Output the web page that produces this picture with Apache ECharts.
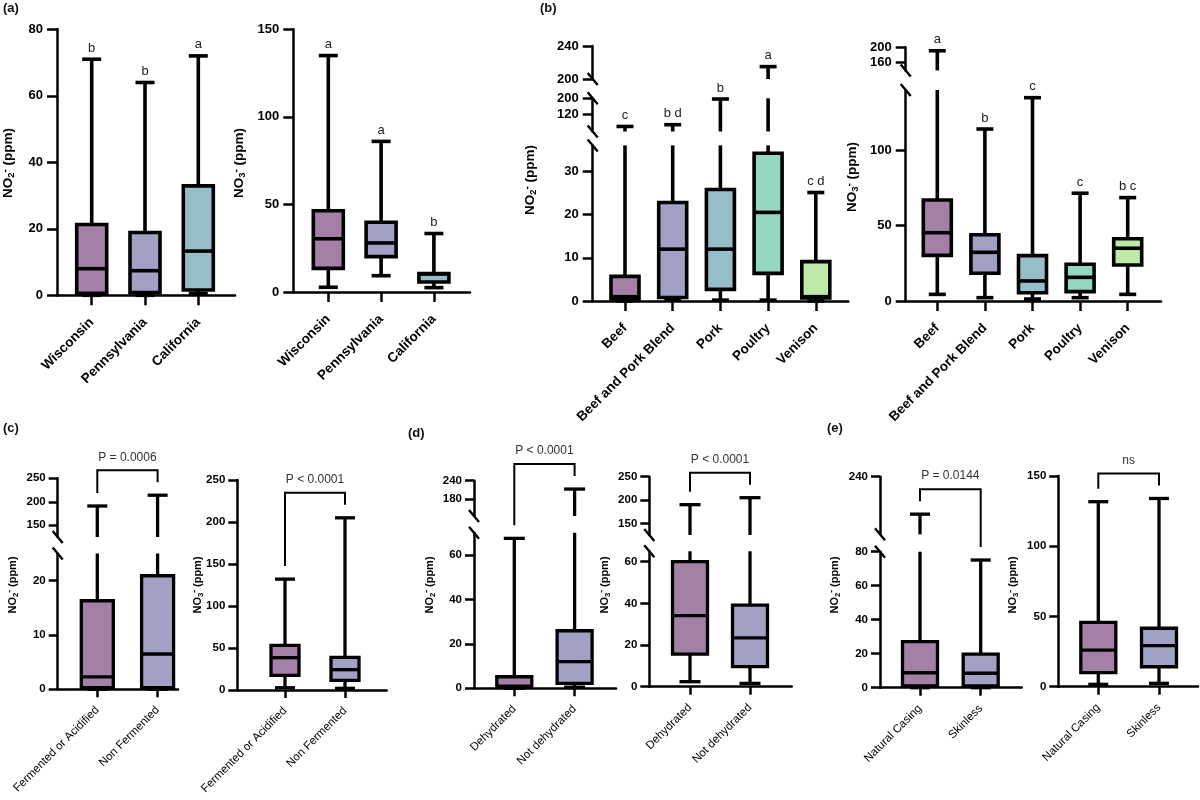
<!DOCTYPE html>
<html><head><meta charset="utf-8">
<script src="https://cdn.jsdelivr.net/npm/echarts@6/dist/echarts.min.js"></script>
<style>html,body{margin:0;padding:0;background:#fff}#c{width:1200px;height:800px}</style>
</head><body><div id="c"></div>
<script>
// ================= DATA =================
// each box: [min, Q1, median, Q3, max]
const palette = ['#A47FA6', '#A1A1C5', '#96BEC9', '#93D6C1', '#BEE9A7'];

const catsA = ['Wisconsin', 'Pennsylvania', 'California'];
const aNO2 = [[0, 0.6, 8.0, 21.3, 71], [0, 0.8, 7.4, 18.9, 64], [0.5, 1.6, 13.3, 32.9, 72]];
const aNO2Letters = ['b', 'b', 'a'];
const aNO2Ticks = [0, 20, 40, 60, 80];
const aNO3 = [[2.7, 13.5, 30.4, 46.4, 135], [9.3, 20.2, 28, 39.8, 86], [2.5, 5.7, 10.3, 10.5, 33.4]];
const aNO3Letters = ['a', 'a', 'b'];
const aNO3Ticks = [0, 50, 100, 150];

const catsB = ['Beef', 'Beef and Pork Blend', 'Pork', 'Poultry', 'Venison'];
const bNO2 = [[0, 0.5, 1.0, 5.7, 61], [0.2, 0.8, 12.0, 22.8, 69.6], [0.2, 2.7, 12.0, 25.8, 196.5], [0.2, 6.4, 20.5, 34.2, 215], [0, 0.7, 1.0, 9.1, 25.1]];
const bNO2Letters = ['c', 'b d', 'b', 'a', 'c d'];
const bNO2TicksLow = [0, 10, 20, 30];
const bNO2TicksMid = [120, 200];
const bNO2TicksHigh = [200, 240];
const bNO3 = [[4.4, 30.3, 45.3, 67, 191], [2.2, 18.4, 32.3, 44, 114.1], [1.3, 5.5, 13.3, 30.1, 134.9], [2.2, 6.2, 15.7, 24.4, 71.5], [4.4, 23.9, 35, 41.3, 68.6]];
const bNO3Letters = ['a', 'b', 'c', 'c', 'b c'];
const bNO3TicksLow = [0, 50, 100];
const bNO3TicksHigh = [160, 200];

const catsC = ['Fermented or Acidified', 'Non Fermented'];
const cNO2 = [[0, 0.3, 2.3, 16.3, 191], [0, 0.3, 6.5, 20.9, 214]];
const cNO2P = 'P = 0.0006';
const cNO2TicksLow = [0, 10, 20];
const cNO2TicksHigh = [150, 200, 250];
const cNO3 = [[2.7, 17.5, 38.5, 53.2, 132], [2, 11.5, 24.2, 38.9, 205]];
const cNO3P = 'P < 0.0001';
const cNO3Ticks = [0, 50, 100, 150, 200, 250];

const catsD = ['Dehydrated', 'Not dehydrated'];
const dNO2 = [[0, 0.5, 1.0, 5.2, 67.5], [0.5, 2.2, 12.0, 25.9, 213]];
const dNO2P = 'P < 0.0001';
const dNO2TicksLow = [0, 20, 40, 60];
const dNO2TicksHigh = [180, 240];
const dNO3 = [[2.4, 15.6, 34.1, 60, 190], [1.6, 9.6, 23.4, 39.2, 205]];
const dNO3P = 'P < 0.0001';
const dNO3TicksLow = [0, 20, 40, 60];
const dNO3TicksHigh = [150, 200, 250];

const catsE = ['Natural Casing', 'Skinless'];
const eNO2 = [[0, 1.0, 8.8, 27.1, 214], [0, 1.0, 8.5, 19.8, 75.1]];
const eNO2P = 'P = 0.0144';
const eNO2TicksLow = [0, 20, 40, 60, 80];
const eNO2TicksHigh = [240];
const eNO3 = [[1.7, 10, 26.1, 45.8, 131.7], [2.4, 14.2, 29.2, 41.6, 134]];
const eNO3P = 'ns';
const eNO3Ticks = [0, 50, 100, 150];

// ================= LAYOUT =================
const FONT = "'Liberation Sans', Arial, Helvetica, sans-serif";
const panels = [
  {cats: catsA, data: aNO2, letters: aNO2Letters, ion: '2', big: true, axisX: 57, xEnd: 235, c0: 91.7, sp: 53.3, boxW: 30, capW: 19, nameC: [8, 163],
   segs: [{lo: 0, hi: 80, yb: 295.3, yt: 29.3, ticks: aNO2Ticks}]},
  {cats: catsA, data: aNO3, letters: aNO3Letters, ion: '3', big: true, axisX: 293.3, xEnd: 470, c0: 328.3, sp: 52.8, boxW: 30, capW: 19, nameC: [239, 163],
   segs: [{lo: 0, hi: 150, yb: 292, yt: 29.3, ticks: aNO3Ticks}]},
  {cats: catsB, data: bNO2, letters: bNO2Letters, ion: '2', big: true, axisX: 592.7, xEnd: 848.3, c0: 625, sp: 47.7, boxW: 28, capW: 17, nameC: [530, 180],
   segs: [{lo: 0, hi: 36, yb: 301, yt: 145.4, ticks: bNO2TicksLow}, {lo: 36, hi: 200, yb: 131.5, yt: 98.3, ticks: bNO2TicksMid}, {lo: 200, hi: 240, yb: 79, yt: 46, ticks: bNO2TicksHigh}]},
  {cats: catsB, data: bNO3, letters: bNO3Letters, ion: '3', big: true, axisX: 905.7, xEnd: 1161, c0: 937.3, sp: 47.6, boxW: 28, capW: 17, nameC: [852, 177],
   segs: [{lo: 0, hi: 140, yb: 301, yt: 90, ticks: bNO3TicksLow}, {lo: 140, hi: 200, yb: 70.4, yt: 47.3, ticks: bNO3TicksHigh}]},
  {cats: catsC, data: cNO2, pText: cNO2P, ion: '2', big: false, axisX: 57.7, xEnd: 178, c0: 97.3, sp: 60.3, boxW: 32, capW: 20, nameC: [13, 585],
   segs: [{lo: 0, hi: 25, yb: 689.3, yt: 553.5, ticks: cNO2TicksLow}, {lo: 125, hi: 250, yb: 537, yt: 478.3, ticks: cNO2TicksHigh}]},
  {cats: catsC, data: cNO3, pText: cNO3P, ion: '3', big: false, axisX: 237.3, xEnd: 386.7, c0: 285, sp: 60, boxW: 28, capW: 20, nameC: [198, 585],
   segs: [{lo: 0, hi: 250, yb: 690, yt: 480, ticks: cNO3Ticks}]},
  {cats: catsD, data: dNO2, pText: dNO2P, ion: '2', big: false, axisX: 474, xEnd: 616, c0: 514.3, sp: 60.3, boxW: 35, capW: 21, nameC: [430, 585],
   segs: [{lo: 0, hi: 70, yb: 688.3, yt: 532.8, ticks: dNO2TicksLow}, {lo: 126, hi: 240, yb: 516, yt: 480.7, ticks: dNO2TicksHigh}]},
  {cats: catsD, data: dNO3, pText: dNO3P, ion: '3', big: false, axisX: 649.3, xEnd: 791.7, c0: 690, sp: 60, boxW: 35, capW: 21, nameC: [605, 585],
   segs: [{lo: 0, hi: 65, yb: 686.7, yt: 551.3, ticks: dNO3TicksLow}, {lo: 125, hi: 250, yb: 535, yt: 476.7, ticks: dNO3TicksHigh}]},
  {cats: catsE, data: eNO2, pText: eNO2P, ion: '2', big: false, axisX: 880, xEnd: 1021.7, c0: 920, sp: 60.7, boxW: 35, capW: 20, nameC: [835, 585],
   segs: [{lo: 0, hi: 80, yb: 687.7, yt: 551.7, ticks: eNO2TicksLow}, {lo: 200, hi: 240, yb: 534.3, yt: 476.7, ticks: eNO2TicksHigh}]},
  {cats: catsE, data: eNO3, pText: eNO3P, ion: '3', big: false, axisX: 1058.3, xEnd: 1198, c0: 1098.3, sp: 60.7, boxW: 35, capW: 20, nameC: [1013.3, 585],
   segs: [{lo: 0, hi: 150, yb: 686.7, yt: 476, ticks: eNO3Ticks}]}
];

const range = n => Array.from({length: n}, (_, i) => i);

function makeRender(p, s, si) {
  const nSeg = p.segs.length;
  const lw = p.big ? 3.6 : 3.3;
  return function (params, api) {
    const i = api.value(0);
    const mn = api.value(1), q1 = api.value(2), md = api.value(3), q3 = api.value(4), mx = api.value(5);
    const cx = api.coord([i, s.lo])[0];
    const Y = v => api.coord([i, v])[1];
    const cl = v => Math.max(s.lo, Math.min(s.hi, v));
    const inR = v => v >= s.lo && v <= s.hi;
    const st = {stroke: '#000', lineWidth: lw};
    const ch = [];
    const vline = (a, b) => {
      if (b < s.lo || a > s.hi) return;
      ch.push({type: 'line', shape: {x1: cx, y1: Y(cl(a)), x2: cx, y2: Y(cl(b))}, style: st});
    };
    const hline = (v, w) => ch.push({type: 'line', shape: {x1: cx - w / 2, y1: Y(v), x2: cx + w / 2, y2: Y(v)}, style: st});
    vline(mn, q1);
    vline(q3, mx);
    if (!(q3 < s.lo || q1 > s.hi)) {
      const yT = Y(cl(q3)), yB = Y(cl(q1));
      ch.push({type: 'rect', shape: {x: cx - p.boxW / 2, y: yT, width: p.boxW, height: yB - yT},
               style: {fill: palette[i], stroke: '#000', lineWidth: lw}});
    }
    if (inR(md)) hline(md, p.boxW);
    if (inR(mn)) hline(mn, p.capW);
    if (inR(mx)) {
      hline(mx, p.capW);
      if (p.letters) {
        ch.push({type: 'text', style: {text: p.letters[i], x: cx, y: Y(mx) - 11, align: 'center', verticalAlign: 'middle',
                 fontSize: 13, fontFamily: FONT, fill: '#222'}});
      }
    }
    if (params.dataIndex === 0) {
      const cs = params.coordSys;
      const bst = {stroke: '#000', lineWidth: 2.4};
      if (si > 0) {
        const y0 = cs.y + cs.height;
        ch.push({type: 'line', shape: {x1: cs.x - 5, y1: y0 - 6, x2: cs.x + 5, y2: y0 + 6}, style: bst});
      }
      if (si < nSeg - 1) {
        const y0 = cs.y;
        ch.push({type: 'line', shape: {x1: cs.x - 5, y1: y0 - 6, x2: cs.x + 5, y2: y0 + 6}, style: bst});
      }
    }
    return {type: 'group', children: ch};
  };
}

const option = {
  animation: false,
  backgroundColor: '#fff',
  title: [
    {text: '(a)', left: 3, top: 2}, {text: '(b)', left: 540, top: 2},
    {text: '(c)', left: 3, top: 422}, {text: '(d)', left: 408, top: 427}, {text: '(e)', left: 827, top: 422}
  ].map(t => Object.assign(t, {padding: 0, textStyle: {fontSize: 13, fontWeight: 'bold', color: '#111', fontFamily: FONT}})),
  grid: [], xAxis: [], yAxis: [], series: []
};

panels.forEach(p => {
  const n = p.cats.length;
  const xmin = -(p.c0 - p.axisX) / p.sp, xmax = (p.xEnd - p.c0) / p.sp;
  const tfs = p.big ? 13 : 11.5;
  const axLine = {color: '#000', width: 2.5};
  p.gridIdx = [];
  p.segs.forEach((s, si) => {
    const gi = option.grid.length;
    p.gridIdx.push(gi);
    option.grid.push({left: p.axisX, top: s.yt, width: p.xEnd - p.axisX, height: s.yb - s.yt, containLabel: false, outerBoundsMode: 'none'});
    option.xAxis.push({
      gridIndex: gi, type: 'value', min: xmin, max: xmax, show: si === 0,
      axisLine: {show: true, onZero: false, lineStyle: axLine},
      axisTick: {show: true, customValues: range(n), length: p.big ? 10 : 8, lineStyle: axLine},
      axisLabel: {customValues: range(n), formatter: v => p.cats[Math.round(v)] || '', rotate: 45, margin: p.big ? 25 : 19,
                  fontSize: p.big ? 13.5 : 11.5, fontWeight: p.big ? 'bold' : 'normal', color: '#000', fontFamily: FONT},
      splitLine: {show: false}
    });
    option.yAxis.push({
      gridIndex: gi, type: 'value', min: s.lo, max: s.hi,
      axisLine: {show: true, onZero: false, lineStyle: axLine},
      axisTick: {show: true, customValues: s.ticks, length: p.big ? 10 : 9, lineStyle: axLine},
      axisLabel: {customValues: s.ticks, margin: p.big ? 14 : 12, fontSize: tfs, fontWeight: 'bold', color: '#000', fontFamily: FONT},
      splitLine: {show: false}
    });
    option.series.push({
      type: 'custom', xAxisIndex: gi, yAxisIndex: gi, silent: true, animation: false, z: 3,
      data: p.data.map((d, i) => [i].concat(d)),
      encode: {x: 0, y: [1, 2, 3, 4, 5]},
      renderItem: makeRender(p, s, si)
    });
  });
  // frame grid carrying the y-axis title
  const gi = option.grid.length;
  const nfs = p.big ? 13.5 : 11;
  const lh = nfs + 3;
  option.grid.push({left: p.axisX, top: p.nameC[1] - 40, width: 10, height: 80, containLabel: false, outerBoundsMode: 'none'});
  option.xAxis.push({gridIndex: gi, type: 'value', show: false, min: 0, max: 1});
  option.yAxis.push({
    gridIndex: gi, type: 'value', min: 0, max: 1,
    name: '{m|NO}{s|' + p.ion + '}{u|-}{m| (ppm)}', nameLocation: 'middle', nameGap: p.axisX - p.nameC[0] - lh / 2,
    nameMoveOverlap: false,
    nameTextStyle: {rich: {
      m: {fontSize: nfs, fontWeight: 'bold', fontFamily: FONT, color: '#000', lineHeight: lh},
      s: {fontSize: nfs * 0.7, fontWeight: 'bold', fontFamily: FONT, color: '#000', lineHeight: nfs * 0.7, verticalAlign: 'bottom'},
      u: {fontSize: nfs * 0.75, fontWeight: 'bold', fontFamily: FONT, color: '#000', lineHeight: nfs * 0.7, verticalAlign: 'top'}
    }},
    axisLine: {show: false}, axisTick: {show: false}, axisLabel: {show: false}, splitLine: {show: false}
  });
});

const chart = echarts.init(document.getElementById('c'), null, {renderer: 'canvas'});
chart.setOption(option);

// significance brackets, positioned through the axes' own scales
const gfx = [];
panels.forEach(p => {
  if (!p.pText) return;
  const pts = p.data.map((d, i) => {
    const mx = d[4];
    let si = p.segs.findIndex(s => mx >= s.lo && mx <= s.hi);
    if (si < 0) si = p.segs.length - 1;
    const px = chart.convertToPixel({gridIndex: p.gridIdx[si]}, [i, mx]);
    return [px[0], px[1] - 13];
  });
  const by = Math.min(pts[0][1], pts[1][1]) - 12;
  gfx.push({type: 'polyline', silent: true,
            shape: {points: [pts[0], [pts[0][0], by], [pts[1][0], by], pts[1]]},
            style: {stroke: '#000', lineWidth: 2, fill: null}});
  gfx.push({type: 'text', silent: true, x: (pts[0][0] + pts[1][0]) / 2, y: by - 13,
            style: {text: p.pText, align: 'center', verticalAlign: 'middle', fontSize: 12, fontFamily: FONT, fill: '#333'}});
});
chart.setOption({graphic: gfx});
</script>
</body></html>
